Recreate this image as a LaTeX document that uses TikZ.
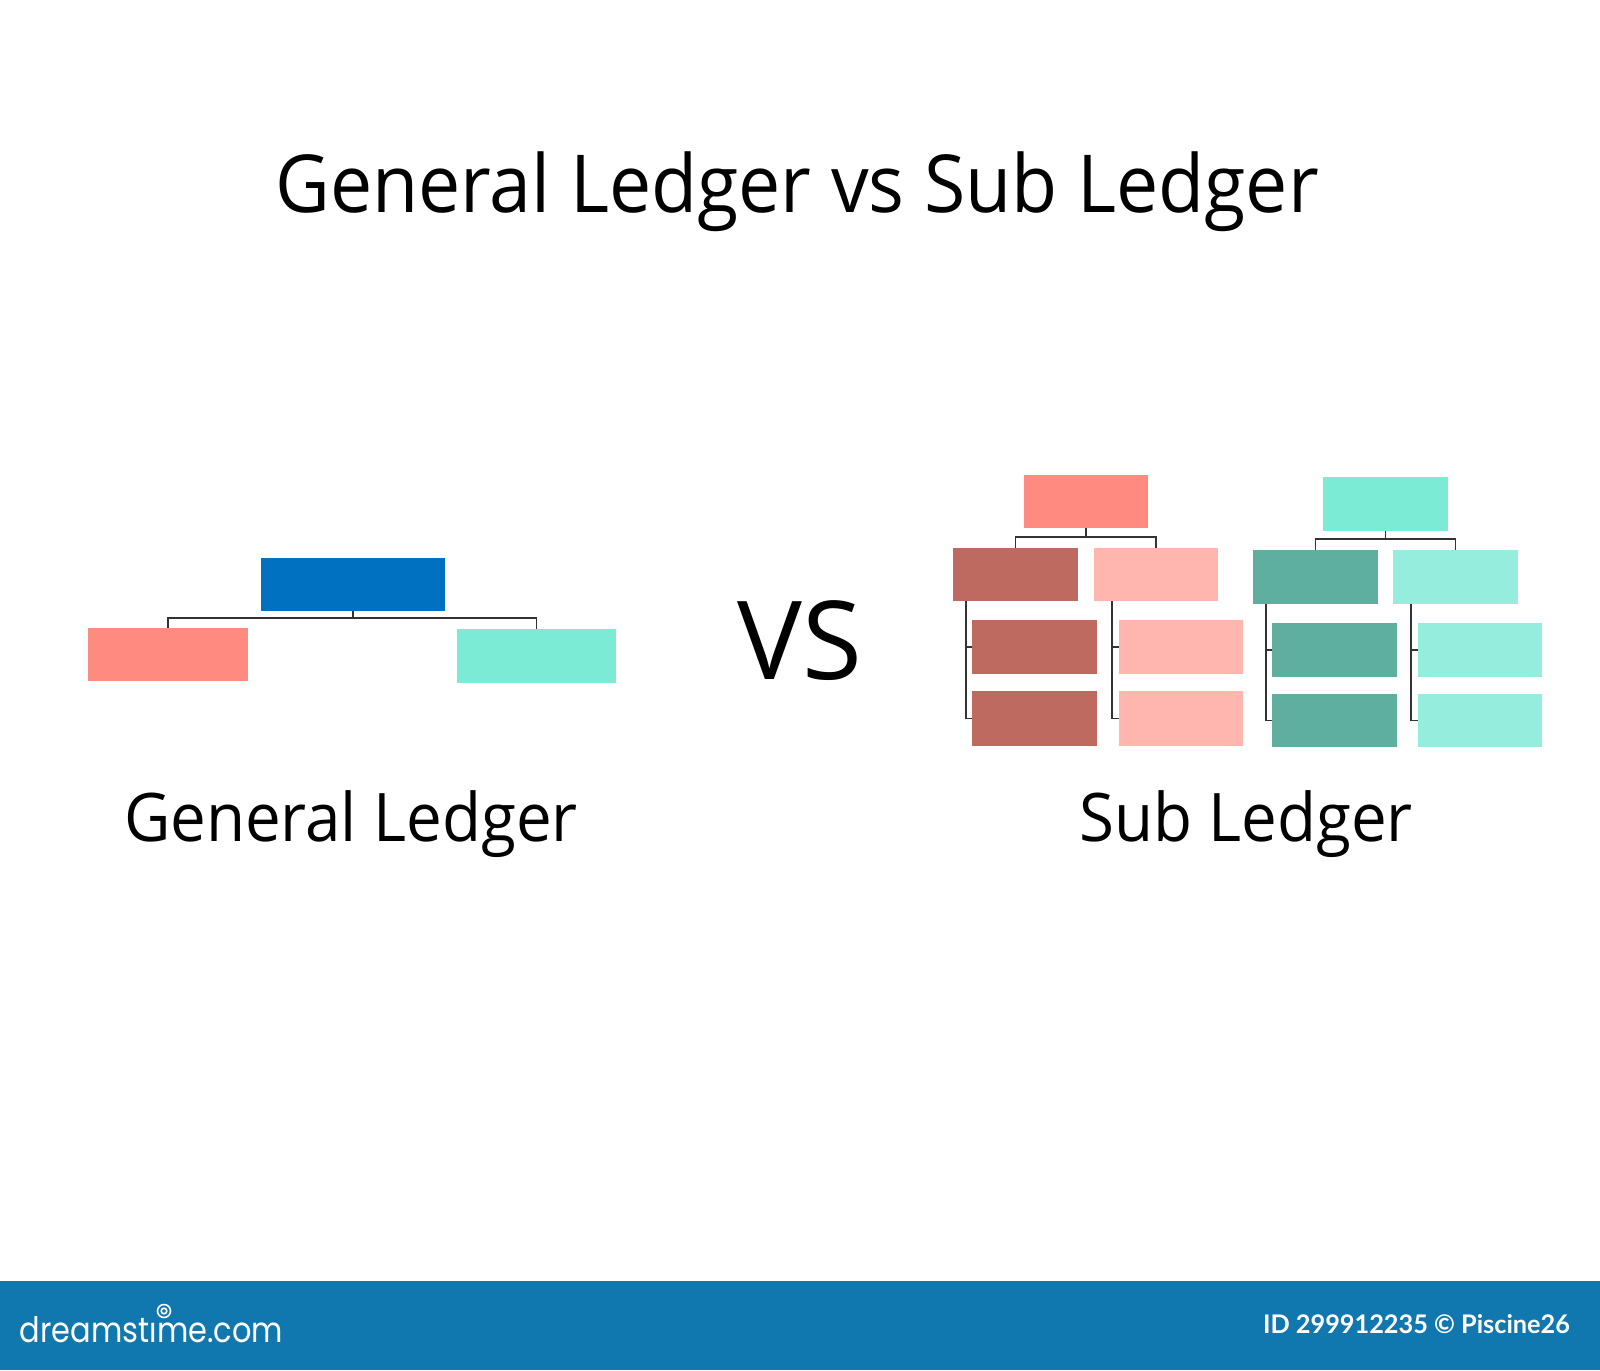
\documentclass[tikz,border=0pt]{standalone}
\usepackage{fontspec}
\usepackage{graphicx}
\setmainfont{Open Sans}
\newfontfamily\ttlfont[FakeStretch=0.94]{Open Sans}
\newfontfamily\lblfont[FakeStretch=0.95]{Open Sans}
\newfontfamily\vsfont{Open Sans}
\newfontfamily\idfont{Lato}
\newfontfamily\logofont{Poppins}
\definecolor{cblue}{HTML}{0070C0}
\definecolor{csalmon}{HTML}{FF8A80}
\definecolor{cteal}{HTML}{7BEBD5}
\definecolor{cdred}{HTML}{BE6A61}
\definecolor{cpink}{HTML}{FFB6AE}
\definecolor{cdteal}{HTML}{5EAF9F}
\definecolor{clteal}{HTML}{95EEDD}
\definecolor{cbar}{HTML}{1177AF}
\definecolor{cline}{HTML}{333333}
\tikzset{
  boxst/.style={draw=none, inner sep=0pt, outer sep=0pt, rectangle},
  conn/.style={draw=cline, line width=1.3pt},
}
\newcommand\mybox[6]{\node[boxst, fill=#6, minimum width={#4-#2}, minimum height={#5-#3}] (#1) at ({(#2+#4)/2},{(#3+#5)/2}) {};}
\begin{document}
\begin{tikzpicture}[x=1pt,y=-1pt]
\useasboundingbox (0,0) rectangle (1600,1370);
\fill[white] (0,0) rectangle (1600,1370);
% title
\node[anchor=base, inner sep=0pt, font=\ttlfont\fontsize{80}{96}\selectfont] (title) at (797,212) {General Ledger vs Sub Ledger};
% general ledger tree
\mybox{gl}{261}{558}{445}{611}{cblue}
\mybox{gla}{88}{628}{248}{681}{csalmon}
\mybox{glb}{457}{629}{616}{683}{cteal}
\draw[conn] (gla.north) -- ++(0,-10) coordinate (gj) -| (glb.north);
\draw[conn] (gl.south) -- (gl.south |- gj);
\node[anchor=base, inner sep=0pt, font=\lblfont\fontsize{67}{80}\selectfont] (gllabel) at (351,841) {General Ledger};
% vs
\node[anchor=base, inner sep=0pt, font=\vsfont\fontsize{109}{130}\selectfont] (vs) at (800,679) {VS};
% sub ledger tree 1
\mybox{st1}{1024}{475}{1148}{528}{csalmon}
\mybox{s1a}{953}{548}{1078}{601}{cdred}
\mybox{s1b}{1094}{548}{1218}{601}{cpink}
\mybox{c11}{972}{620}{1097}{674}{cdred}
\mybox{c12}{972}{691}{1097}{746}{cdred}
\mybox{c13}{1119}{620}{1243}{674}{cpink}
\mybox{c14}{1119}{691}{1243}{746}{cpink}
\draw[conn] (s1a.north) -- ++(0,-11) coordinate (j1) -| (s1b.north);
\draw[conn] (st1.south) -- (st1.south |- j1);
\draw[conn] ([xshift=-6pt]c11.west |- s1a.south) |- (c12.west);
\draw[conn] ([xshift=-6pt]c11.west) -- (c11.west);
\draw[conn] ([xshift=-7pt]c13.west |- s1b.south) |- (c14.west);
\draw[conn] ([xshift=-7pt]c13.west) -- (c13.west);
% sub ledger tree 2
\mybox{st2}{1323}{477}{1448}{531}{cteal}
\mybox{s2a}{1253}{550}{1378}{604}{cdteal}
\mybox{s2b}{1393}{550}{1518}{604}{clteal}
\mybox{c21}{1272}{623}{1397}{677}{cdteal}
\mybox{c22}{1272}{694}{1397}{747}{cdteal}
\mybox{c23}{1418}{623}{1542}{677}{clteal}
\mybox{c24}{1418}{694}{1542}{747}{clteal}
\draw[conn] (s2a.north) -- ++(0,-11) coordinate (j2) -| (s2b.north);
\draw[conn] (st2.south) -- (st2.south |- j2);
\draw[conn] ([xshift=-6pt]c21.west |- s2a.south) |- (c22.west);
\draw[conn] ([xshift=-6pt]c21.west) -- (c21.west);
\draw[conn] ([xshift=-7pt]c23.west |- s2b.south) |- (c24.west);
\draw[conn] ([xshift=-7pt]c23.west) -- (c23.west);
\node[anchor=base, inner sep=0pt, font=\lblfont\fontsize{67}{80}\selectfont] (sllabel) at (1246,841) {Sub Ledger};
% bottom bar
\fill[cbar] (0,1281) rectangle (1600,1370);
\node[anchor=base, inner sep=0pt, text=white] (logo) at (151.5,1342) {\resizebox{263pt}{26pt}{\logofont dreamst\i me.com}};
\draw[white, line width=1.6pt] (164,1311) circle (6.5);
\draw[white, line width=1.6pt] (164,1311) circle (2.8);
\node[anchor=base, inner sep=0pt, text=white] (idtext) at (1416.5,1333) {\resizebox{307pt}{19pt}{\idfont\bfseries ID 299912235 © Piscine26}};
\end{tikzpicture}
\end{document}
